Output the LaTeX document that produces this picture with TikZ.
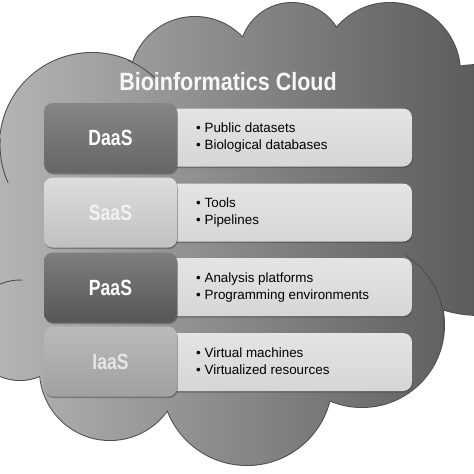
\documentclass[tikz,border=0pt]{standalone}
\usepackage{fontspec}
\setmainfont{Liberation Sans}
\usepackage{graphicx}
\usetikzlibrary{shadows}
\definecolor{cloudL}{HTML}{B4B4B4}
\definecolor{cloudR}{HTML}{5C5C5C}
\definecolor{cloudLine}{HTML}{4E4E4E}
\definecolor{rtop}{HTML}{E4E4E4}
\definecolor{rbot}{HTML}{D6D6D6}
\definecolor{dTop}{HTML}{858585}
\definecolor{dBot}{HTML}{666666}
\definecolor{sTop}{HTML}{DDDDDD}
\definecolor{sBot}{HTML}{C0C0C0}
\definecolor{pTop}{HTML}{7E7E7E}
\definecolor{pBot}{HTML}{565656}
\definecolor{iTop}{HTML}{BABABA}
\definecolor{iBot}{HTML}{A0A0A0}
\tikzset{
  cloudedge/.style={draw=cloudLine, line width=0.9pt},
  boxshadow/.style={drop shadow={shadow xshift=0.8pt, shadow yshift=-1.6pt, opacity=0.45, fill=black!75}},
  rbox/.style={rounded corners=9pt, minimum width=262pt, minimum height=58pt, inner sep=0pt, top color=rtop, bottom color=rbot, boxshadow},
  lbox/.style={rounded corners=9pt, minimum width=133pt, minimum height=70pt, inner sep=0pt, boxshadow, font=\fontsize{22}{25}\selectfont\bfseries},
  items/.style={anchor=west, align=left, inner sep=0pt, font=\fontsize{13.4}{16.6}\selectfont, text=black},
  titletext/.style={font=\fontsize{25}{29}\selectfont\bfseries, text=white!97!black}
}
\newcommand{\hsq}[2]{\scalebox{#1}[1]{#2}}
\begin{document}
\begin{tikzpicture}[x=1pt,y=-1pt]
\useasboundingbox (0,0) rectangle (474,474);
\fill[white] (0,0) rectangle (474,474);
% cloud outer outline (thick, half of it hidden by the fills)
\foreach \cx/\cy/\r in {480/190/125, 390/73/70, 292/55/52, 195/82/65, 362/325/82, 247/380/85, 30/225/75, 20/330/50, 92/145/92, 110/370/70}{
  \draw[draw=cloudLine, line width=2pt] (\cx,\cy) circle (\r pt);
}
% cloud fills with one common gradient
\foreach \cx/\cy/\r in {480/190/125, 390/73/70, 292/55/52, 195/82/65, 362/325/82, 247/380/85, 30/225/75, 20/330/50, 92/145/92, 110/370/70}{
  \begin{scope}
    \clip (\cx,\cy) circle (\r pt);
    \shade[left color=cloudL, right color=cloudR] (0,0) rectangle (474,474);
  \end{scope}
}
\begin{scope}
  \clip (40,120) -- (140,60) -- (405,60) -- (405,390) -- (320,392) -- (160,405) -- (60,375) -- (40,300) -- cycle;
  \shade[left color=cloudL, right color=cloudR] (0,0) rectangle (474,474);
\end{scope}
% inner lobe edges
\begin{scope}
  \clip (-5,138) rectangle (12,182);
  \draw[cloudedge] (92,145) circle (92pt);
\end{scope}
\begin{scope}
  \clip (128,50) rectangle (160,80);
  \draw[cloudedge] (92,145) circle (92pt);
\end{scope}
\begin{scope}
  \clip (-5,272) rectangle (22,292);
  \draw[cloudedge] (20,330) circle (50pt);
\end{scope}
\begin{scope}
  \clip (405,245) rectangle (450,335);
  \draw[cloudedge] (362,325) circle (82pt);
\end{scope}
% title
\node[titletext] (title) at (228,82) {\hsq{0.86}{Bioinformatics Cloud}};
% right boxes
\node[rbox] (dR) at (281,137.5) {};
\node[rbox] (sR) at (281,212.5) {};
\node[rbox] (pR) at (281,287) {};
\node[rbox] (iR) at (281,362) {};
% left boxes
\node[lbox, top color=dTop, bottom color=dBot, text=white] (dL) at (110.5,138) {\hsq{0.8}{DaaS}};
\node[lbox, top color=sTop, bottom color=sBot, text=white!95!black] (sL) at (110.5,212.5) {\hsq{0.8}{SaaS}};
\node[lbox, top color=pTop, bottom color=pBot, text=white] (pL) at (110.5,287.5) {\hsq{0.8}{PaaS}};
\node[lbox, top color=iTop, bottom color=iBot, text=white!90!black] (iL) at (110.5,361.5) {\hsq{0.8}{IaaS}};
% item texts
\node[items] (dT) at (196,137.5) {• Public datasets\\• Biological databases};
\node[items] (sT) at (196,212.5) {• Tools\\• Pipelines};
\node[items] (pT) at (196,287.5) {• Analysis platforms\\• Programming environments};
\node[items] (iT) at (196,361.5) {• Virtual machines\\• Virtualized resources};
\end{tikzpicture}
\end{document}
